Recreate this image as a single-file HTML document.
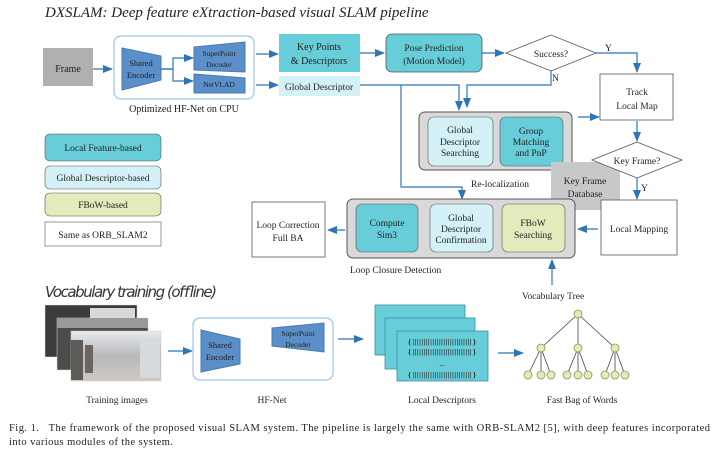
<!DOCTYPE html>
<html><head><meta charset="utf-8"><style>
html,body{margin:0;padding:0;background:#fff;width:720px;height:456px;overflow:hidden}
svg{display:block}
text{font-family:"Liberation Serif",serif;fill:#222}
</style></head><body>
<svg width="720" height="456" viewBox="0 0 720 456" xmlns="http://www.w3.org/2000/svg">
<defs>
<marker id="a" markerWidth="10" markerHeight="8" refX="9" refY="4" orient="auto" markerUnits="userSpaceOnUse"><path d="M0,0 L10,4 L0,8 Z" fill="#2e75b6"/></marker>
<linearGradient id="ph" x1="0" y1="0" x2="0" y2="1"><stop offset="0" stop-color="#e8eaee"/><stop offset="0.5" stop-color="#b8b8b8"/><stop offset="1" stop-color="#cfc9c4"/></linearGradient>
</defs>
<text x="45" y="17" font-size="15" font-style="italic">DXSLAM: Deep feature eXtraction-based visual SLAM pipeline</text>

<rect x="43" y="48" width="50" height="38" fill="#b0b0b0"/>
<text x="68" y="72" font-size="10" text-anchor="middle">Frame</text>
<rect x="114" y="36" width="140" height="63" rx="7" fill="#fff" stroke="#9cc3e6" stroke-width="1.2"/>
<text x="184" y="112" font-size="10" text-anchor="middle">Optimized HF-Net on CPU</text>
<polygon points="122,48 161,56 161,80 122,90" fill="#5b8fc9" stroke="#4a7ab0"/>
<text x="141" y="66" font-size="8.5" text-anchor="middle" fill="#1b2f4e">Shared</text>
<text x="141" y="78" font-size="8.5" text-anchor="middle" fill="#1b2f4e">Encoder</text>
<polygon points="194,47 245,42 245,72 194,70" fill="#5b8fc9" stroke="#4a7ab0"/>
<text x="219" y="56" font-size="7.5" text-anchor="middle" fill="#1b2f4e">SuperPoint</text>
<text x="219" y="67" font-size="7.5" text-anchor="middle" fill="#1b2f4e">Decoder</text>
<polygon points="194,74 245,78 245,93 194,93" fill="#5b8fc9" stroke="#4a7ab0"/>
<text x="219" y="87" font-size="7.5" text-anchor="middle" fill="#1b2f4e">NetVLAD</text>

<g stroke="#2e75b6" stroke-width="1.2" fill="none" marker-end="url(#a)">
<line x1="93" y1="69" x2="112" y2="69"/>
<polyline points="161,69 173,69 173,58 193,58"/>
<polyline points="161,69 173,69 173,81 193,81"/>
<line x1="256" y1="54" x2="278" y2="54"/>
<line x1="256" y1="85" x2="278" y2="85"/>
<line x1="360" y1="53" x2="384" y2="53"/>
<line x1="482" y1="53" x2="504" y2="53"/>
<polyline points="596,53 637,53 637,72"/>
<polyline points="551,71 551,85 467,85 467,107"/>
<polyline points="360,85 459,85 459,110"/>
<polyline points="401,85 401,187 462,187 462,199"/>
<line x1="578" y1="117" x2="599" y2="117"/>
<line x1="637" y1="121" x2="637" y2="141"/>
<line x1="637" y1="178" x2="637" y2="199"/>
<line x1="598" y1="229" x2="578" y2="229"/>
<line x1="345" y1="230" x2="328" y2="230"/>
<line x1="552" y1="285" x2="552" y2="260"/>
<line x1="168" y1="351" x2="192" y2="351"/>
<polyline points="240,351 251,351 251,338 271,338"/>
<line x1="338" y1="339" x2="363" y2="339"/>
<line x1="498" y1="353" x2="523" y2="353"/>
</g>

<rect x="279" y="34" width="81" height="38" fill="#67cdd8"/>
<text x="319" y="50" font-size="10" text-anchor="middle">Key Points</text>
<text x="319" y="64" font-size="10" text-anchor="middle">&amp; Descriptors</text>
<rect x="279" y="76" width="81" height="20" fill="#d3f1f6"/>
<text x="319" y="90" font-size="9.5" text-anchor="middle">Global Descriptor</text>

<rect x="386" y="34" width="96" height="38" rx="6" fill="#67cdd8" stroke="#555" stroke-width="0.8"/>
<text x="434" y="51" font-size="9.5" text-anchor="middle">Pose Prediction</text>
<text x="434" y="64" font-size="9.5" text-anchor="middle">(Motion Model)</text>
<polygon points="506,53 551,35 596,53 551,71" fill="#fff" stroke="#555" stroke-width="0.8"/>
<text x="551" y="57" font-size="9.5" text-anchor="middle">Success?</text>
<text x="605" y="51" font-size="9.5">Y</text>
<text x="552" y="81" font-size="9.5">N</text>

<rect x="600" y="74" width="73" height="46" fill="#fff" stroke="#555" stroke-width="0.8"/>
<text x="637" y="95" font-size="9.5" text-anchor="middle">Track</text>
<text x="637" y="109" font-size="9.5" text-anchor="middle">Local Map</text>

<rect x="419" y="112" width="153" height="58" rx="6" fill="#d9d9d9" stroke="#555" stroke-width="1"/>
<rect x="428" y="117" width="65" height="49" rx="6" fill="#d3f1f6" stroke="#555" stroke-width="0.6"/>
<text x="460" y="133" font-size="9.5" text-anchor="middle">Global</text>
<text x="460" y="145" font-size="9.5" text-anchor="middle">Descriptor</text>
<text x="460" y="156" font-size="9.5" text-anchor="middle">Searching</text>
<rect x="500" y="117" width="63" height="49" rx="6" fill="#67cdd8" stroke="#555" stroke-width="0.6"/>
<text x="531" y="134" font-size="9.5" text-anchor="middle">Group</text>
<text x="531" y="145" font-size="9.5" text-anchor="middle">Matching</text>
<text x="531" y="156" font-size="9.5" text-anchor="middle">and PnP</text>
<text x="471" y="187" font-size="9.5">Re-localization</text>

<rect x="551" y="162" width="69" height="48" fill="#c8c8c8"/>
<polygon points="592,160 637,142 682,160 637,178" fill="#fff" stroke="#555" stroke-width="0.8"/>
<text x="637" y="164" font-size="9.5" text-anchor="middle">Key Frame?</text>
<text x="585" y="184" font-size="9.5" text-anchor="middle">Key Frame</text>
<text x="585" y="197" font-size="9.5" text-anchor="middle">Database</text>
<text x="641" y="191" font-size="9.5">Y</text>
<rect x="601" y="200" width="76" height="55" fill="#fff" stroke="#555" stroke-width="0.8"/>
<text x="639" y="232" font-size="9.5" text-anchor="middle">Local Mapping</text>

<rect x="347" y="199" width="228" height="59" rx="6" fill="#d9d9d9" stroke="#555" stroke-width="1"/>
<rect x="356" y="204" width="62" height="48" rx="6" fill="#67cdd8" stroke="#555" stroke-width="0.6"/>
<text x="387" y="226" font-size="9.5" text-anchor="middle">Compute</text>
<text x="387" y="238" font-size="9.5" text-anchor="middle">Sim3</text>
<rect x="430" y="204" width="63" height="48" rx="6" fill="#d3f1f6" stroke="#555" stroke-width="0.6"/>
<text x="461" y="221" font-size="9.5" text-anchor="middle">Global</text>
<text x="461" y="232" font-size="9.5" text-anchor="middle">Descriptor</text>
<text x="461" y="243" font-size="9.5" text-anchor="middle">Confirmation</text>
<rect x="502" y="204" width="63" height="48" rx="6" fill="#e1ebbb" stroke="#555" stroke-width="0.6"/>
<text x="533" y="226" font-size="9.5" text-anchor="middle">FBoW</text>
<text x="533" y="238" font-size="9.5" text-anchor="middle">Searching</text>
<text x="350" y="273" font-size="9.5">Loop Closure Detection</text>
<rect x="252" y="202" width="73" height="55" fill="#fff" stroke="#555" stroke-width="0.8"/>
<text x="288" y="228" font-size="9.5" text-anchor="middle">Loop Correction</text>
<text x="288" y="241" font-size="9.5" text-anchor="middle">Full BA</text>
<text x="553" y="299" font-size="9.5" text-anchor="middle">Vocabulary Tree</text>

<rect x="45" y="134" width="116" height="27" rx="5" fill="#67cdd8" stroke="#555" stroke-width="0.6"/>
<text x="103" y="151" font-size="9.5" text-anchor="middle">Local Feature-based</text>
<rect x="45" y="166" width="116" height="23" rx="5" fill="#d3f1f6" stroke="#555" stroke-width="0.6"/>
<text x="103" y="181" font-size="9.5" text-anchor="middle">Global Descriptor-based</text>
<rect x="45" y="193" width="116" height="23" rx="5" fill="#e1ebbb" stroke="#555" stroke-width="0.6"/>
<text x="103" y="208" font-size="9.5" text-anchor="middle">FBoW-based</text>
<rect x="45" y="222" width="116" height="24" fill="#fff" stroke="#555" stroke-width="0.6"/>
<text x="103" y="238" font-size="9.5" text-anchor="middle">Same as ORB_SLAM2</text>

<text x="45" y="297" font-size="15" font-style="italic" style="font-family:'DejaVu Sans',sans-serif;fill:#333" textLength="172">Vocabulary training (offline)</text>
<rect x="45" y="305" width="92" height="52" fill="#3a3c3c" stroke="#ddd" stroke-width="0.5"/>
<rect x="90" y="308" width="45" height="25" fill="#d8d8d8"/>
<rect x="57" y="318" width="91" height="52" fill="#4a4d4c" stroke="#ddd" stroke-width="0.5"/>
<rect x="57" y="318" width="91" height="10" fill="#9a9898"/>
<rect x="71" y="331" width="90" height="50" fill="url(#ph)" stroke="#ccc" stroke-width="0.5"/>
<rect x="71" y="340" width="12" height="40" fill="#5e5a55"/>
<rect x="85" y="345" width="8" height="28" fill="#6b6560"/>
<rect x="140" y="340" width="20" height="38" fill="#d6dadd"/>
<text x="117" y="403" font-size="9.5" text-anchor="middle">Training images</text>

<rect x="193" y="318" width="140" height="62" rx="7" fill="#fff" stroke="#9cc3e6" stroke-width="1.2"/>
<polygon points="201,330 240,339 240,364 201,372" fill="#5b8fc9" stroke="#4a7ab0"/>
<text x="220" y="348" font-size="8.5" text-anchor="middle" fill="#1b2f4e">Shared</text>
<text x="220" y="360" font-size="8.5" text-anchor="middle" fill="#1b2f4e">Encoder</text>
<polygon points="272,328 324,323 324,352 272,346" fill="#5b8fc9" stroke="#4a7ab0"/>
<text x="298" y="336" font-size="7.5" text-anchor="middle" fill="#1b2f4e">SuperPoint</text>
<text x="298" y="347" font-size="7.5" text-anchor="middle" fill="#1b2f4e">Decoder</text>
<text x="272" y="403" font-size="9.5" text-anchor="middle">HF-Net</text>

<rect x="375" y="305" width="90" height="50" fill="#67cdd8" stroke="#3b8fa0" stroke-width="0.8"/>
<rect x="385" y="318" width="90" height="51" fill="#67cdd8" stroke="#3b8fa0" stroke-width="0.8"/>
<rect x="397" y="331" width="91" height="50" fill="#67cdd8" stroke="#3b8fa0" stroke-width="0.8"/>
<g font-size="7" text-anchor="middle" style="font-family:'Liberation Mono',monospace">
<text x="442" y="344" textLength="70" lengthAdjust="spacingAndGlyphs">{|||||||||||||||||||||||||||}</text>
<text x="442" y="354" textLength="70" lengthAdjust="spacingAndGlyphs">{|||||||||||||||||||||||||||}</text>
<text x="442" y="366">...</text>
<text x="442" y="377" textLength="70" lengthAdjust="spacingAndGlyphs">{|||||||||||||||||||||||||||}</text>
</g>
<text x="442" y="403" font-size="9.5" text-anchor="middle">Local Descriptors</text>

<g stroke="#444" stroke-width="0.8">
<line x1="578" y1="314" x2="541" y2="348"/><line x1="578" y1="314" x2="578" y2="348"/><line x1="578" y1="314" x2="615" y2="348"/>
<line x1="541" y1="348" x2="528" y2="375"/><line x1="541" y1="348" x2="541" y2="375"/><line x1="541" y1="348" x2="551" y2="375"/>
<line x1="578" y1="348" x2="567" y2="375"/><line x1="578" y1="348" x2="578" y2="375"/><line x1="578" y1="348" x2="588" y2="375"/>
<line x1="615" y1="348" x2="605" y2="375"/><line x1="615" y1="348" x2="615" y2="375"/><line x1="615" y1="348" x2="625" y2="375"/>
</g>
<g fill="#e1ebbb" stroke="#8a9a50" stroke-width="0.8">
<circle cx="578" cy="314" r="4"/><circle cx="541" cy="348" r="4"/><circle cx="578" cy="348" r="4"/><circle cx="615" cy="348" r="4"/>
<circle cx="528" cy="375" r="4"/><circle cx="541" cy="375" r="4"/><circle cx="551" cy="375" r="4"/>
<circle cx="567" cy="375" r="4"/><circle cx="578" cy="375" r="4"/><circle cx="588" cy="375" r="4"/>
<circle cx="605" cy="375" r="4"/><circle cx="615" cy="375" r="4"/><circle cx="625" cy="375" r="4"/>
</g>
<text x="582" y="403" font-size="9.5" text-anchor="middle">Fast Bag of Words</text>

<text x="9" y="431" font-size="10.5" textLength="701" lengthAdjust="spacing">Fig. 1.&#160;&#160;&#160;The framework of the proposed visual SLAM system. The pipeline is largely the same with ORB-SLAM2 [5], with deep features incorporated</text>
<text x="9" y="445" font-size="10.5" textLength="164" lengthAdjust="spacing">into various modules of the system.</text>
</svg>
</body></html>
